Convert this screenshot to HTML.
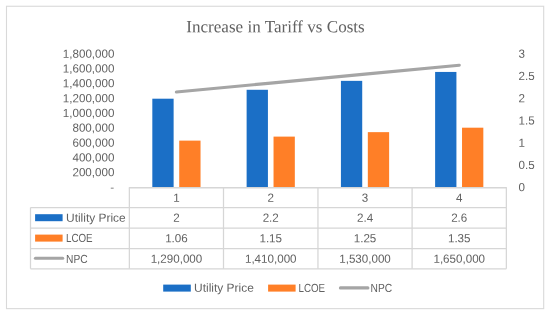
<!DOCTYPE html>
<html lang="en">
<head>
<meta charset="utf-8">
<title>Increase in Tariff vs Costs</title>
<style>
html,body{margin:0;padding:0;background:#fff;}
body{width:550px;height:316px;overflow:hidden;}
svg{display:block;}
.t{font-family:"Liberation Sans",sans-serif;font-size:11.8px;fill:#626262;}
.title{font-family:"Liberation Serif",serif;font-size:17.05px;fill:#626262;}
</style>
</head>
<body>
<svg width="550" height="316" viewBox="0 0 550 316">
<rect x="0" y="0" width="550" height="316" fill="#ffffff"/>
<rect x="6.5" y="6.25" width="537.2" height="302.4" fill="#ffffff" stroke="#d9d9d9" stroke-width="1.1"/>
<text class="title" transform="translate(275.5,32.3) rotate(0.03) scale(1.0025,1)" x="0" y="0" text-anchor="middle">Increase in Tariff vs Costs</text>
<rect x="152.32" y="98.70" width="21.30" height="88.40" fill="#1b6fc6"/>
<rect x="179.23" y="140.62" width="21.30" height="46.48" fill="#ff7f27"/>
<rect x="246.62" y="89.78" width="21.30" height="97.32" fill="#1b6fc6"/>
<rect x="273.53" y="136.61" width="21.30" height="50.49" fill="#ff7f27"/>
<rect x="340.92" y="80.86" width="21.30" height="106.24" fill="#1b6fc6"/>
<rect x="367.82" y="132.15" width="21.30" height="54.95" fill="#ff7f27"/>
<rect x="435.12" y="71.94" width="21.30" height="115.16" fill="#1b6fc6"/>
<rect x="462.03" y="127.69" width="21.30" height="59.41" fill="#ff7f27"/>
<polyline points="176.43,92.01 270.73,83.09 365.02,74.17 459.23,65.25" fill="none" stroke="#a5a5a5" stroke-width="3.2" stroke-linecap="round" stroke-linejoin="round"/>
<g stroke="#d6d6d6" stroke-width="1.25" fill="none">
<line x1="128.85" y1="187.80" x2="506.85" y2="187.80" stroke-width="1.4"/>
<line x1="30.5" y1="207.50" x2="506.35" y2="207.50"/>
<line x1="30.5" y1="228.05" x2="506.35" y2="228.05"/>
<line x1="30.5" y1="248.55" x2="506.35" y2="248.55"/>
<line x1="30.5" y1="268.75" x2="506.35" y2="268.75"/>
<line x1="129.35" y1="187.80" x2="129.35" y2="268.75"/>
<line x1="223.50" y1="187.80" x2="223.50" y2="268.75"/>
<line x1="317.95" y1="187.80" x2="317.95" y2="268.75"/>
<line x1="412.10" y1="187.80" x2="412.10" y2="268.75"/>
<line x1="506.35" y1="187.80" x2="506.35" y2="268.75"/>
<line x1="30.5" y1="207.50" x2="30.5" y2="268.75"/>
</g>
<text class="t" transform="translate(114.40,57.70) rotate(0.03)" text-anchor="end" textLength="51.60" lengthAdjust="spacingAndGlyphs">1,800,000</text>
<text class="t" transform="translate(114.40,72.53) rotate(0.03)" text-anchor="end" textLength="51.60" lengthAdjust="spacingAndGlyphs">1,600,000</text>
<text class="t" transform="translate(114.40,87.36) rotate(0.03)" text-anchor="end" textLength="51.60" lengthAdjust="spacingAndGlyphs">1,400,000</text>
<text class="t" transform="translate(114.40,102.19) rotate(0.03)" text-anchor="end" textLength="51.60" lengthAdjust="spacingAndGlyphs">1,200,000</text>
<text class="t" transform="translate(114.40,117.02) rotate(0.03)" text-anchor="end" textLength="51.60" lengthAdjust="spacingAndGlyphs">1,000,000</text>
<text class="t" transform="translate(114.40,131.85) rotate(0.03)" text-anchor="end" textLength="41.95" lengthAdjust="spacingAndGlyphs">800,000</text>
<text class="t" transform="translate(114.40,146.68) rotate(0.03)" text-anchor="end" textLength="41.95" lengthAdjust="spacingAndGlyphs">600,000</text>
<text class="t" transform="translate(114.40,161.51) rotate(0.03)" text-anchor="end" textLength="41.95" lengthAdjust="spacingAndGlyphs">400,000</text>
<text class="t" transform="translate(114.40,176.34) rotate(0.03)" text-anchor="end" textLength="41.95" lengthAdjust="spacingAndGlyphs">200,000</text>
<text class="t" transform="translate(114.20,191.17) rotate(0.03)" text-anchor="end" textLength="3.90" lengthAdjust="spacingAndGlyphs">-</text>
<text class="t" transform="translate(518.60,57.70) rotate(0.03)" textLength="6.46" lengthAdjust="spacingAndGlyphs">3</text>
<text class="t" transform="translate(518.60,79.95) rotate(0.03)" textLength="16.14" lengthAdjust="spacingAndGlyphs">2.5</text>
<text class="t" transform="translate(518.60,102.20) rotate(0.03)" textLength="6.46" lengthAdjust="spacingAndGlyphs">2</text>
<text class="t" transform="translate(518.60,124.45) rotate(0.03)" textLength="16.14" lengthAdjust="spacingAndGlyphs">1.5</text>
<text class="t" transform="translate(518.60,146.70) rotate(0.03)" textLength="6.46" lengthAdjust="spacingAndGlyphs">1</text>
<text class="t" transform="translate(518.60,168.95) rotate(0.03)" textLength="16.14" lengthAdjust="spacingAndGlyphs">0.5</text>
<text class="t" transform="translate(518.60,191.20) rotate(0.03)" textLength="6.46" lengthAdjust="spacingAndGlyphs">0</text>
<text class="t" transform="translate(176.43,201.65) rotate(0.03)" text-anchor="middle" textLength="6.46" lengthAdjust="spacingAndGlyphs">1</text>
<text class="t" transform="translate(176.43,221.78) rotate(0.03)" text-anchor="middle" textLength="6.46" lengthAdjust="spacingAndGlyphs">2</text>
<text class="t" transform="translate(176.43,242.30) rotate(0.03)" text-anchor="middle" textLength="22.61" lengthAdjust="spacingAndGlyphs">1.06</text>
<text class="t" transform="translate(176.43,262.65) rotate(0.03)" text-anchor="middle" textLength="51.60" lengthAdjust="spacingAndGlyphs">1,290,000</text>
<text class="t" transform="translate(270.73,201.65) rotate(0.03)" text-anchor="middle" textLength="6.46" lengthAdjust="spacingAndGlyphs">2</text>
<text class="t" transform="translate(270.73,221.78) rotate(0.03)" text-anchor="middle" textLength="16.14" lengthAdjust="spacingAndGlyphs">2.2</text>
<text class="t" transform="translate(270.73,242.30) rotate(0.03)" text-anchor="middle" textLength="22.61" lengthAdjust="spacingAndGlyphs">1.15</text>
<text class="t" transform="translate(270.73,262.65) rotate(0.03)" text-anchor="middle" textLength="51.60" lengthAdjust="spacingAndGlyphs">1,410,000</text>
<text class="t" transform="translate(365.02,201.65) rotate(0.03)" text-anchor="middle" textLength="6.46" lengthAdjust="spacingAndGlyphs">3</text>
<text class="t" transform="translate(365.02,221.78) rotate(0.03)" text-anchor="middle" textLength="16.14" lengthAdjust="spacingAndGlyphs">2.4</text>
<text class="t" transform="translate(365.02,242.30) rotate(0.03)" text-anchor="middle" textLength="22.61" lengthAdjust="spacingAndGlyphs">1.25</text>
<text class="t" transform="translate(365.02,262.65) rotate(0.03)" text-anchor="middle" textLength="51.60" lengthAdjust="spacingAndGlyphs">1,530,000</text>
<text class="t" transform="translate(459.23,201.65) rotate(0.03)" text-anchor="middle" textLength="6.46" lengthAdjust="spacingAndGlyphs">4</text>
<text class="t" transform="translate(459.23,221.78) rotate(0.03)" text-anchor="middle" textLength="16.14" lengthAdjust="spacingAndGlyphs">2.6</text>
<text class="t" transform="translate(459.23,242.30) rotate(0.03)" text-anchor="middle" textLength="22.61" lengthAdjust="spacingAndGlyphs">1.35</text>
<text class="t" transform="translate(459.23,262.65) rotate(0.03)" text-anchor="middle" textLength="51.60" lengthAdjust="spacingAndGlyphs">1,650,000</text>
<rect x="35.1" y="214.2" width="27.5" height="7" fill="#1b6fc6"/>
<rect x="35.1" y="234.6" width="27.5" height="7" fill="#ff7f27"/>
<line x1="35.4" y1="258.3" x2="62.7" y2="258.3" stroke="#a5a5a5" stroke-width="3.1" stroke-linecap="round"/>
<text class="t" transform="translate(66.00,221.78) rotate(0.03)" textLength="59.75" lengthAdjust="spacingAndGlyphs">Utility Price</text>
<text class="t" transform="translate(66.00,242.30) rotate(0.03)" textLength="26.58" lengthAdjust="spacingAndGlyphs">LCOE</text>
<text class="t" transform="translate(66.00,262.65) rotate(0.03)" textLength="21.62" lengthAdjust="spacingAndGlyphs">NPC</text>
<rect x="163.2" y="284.6" width="27.6" height="7" fill="#1b6fc6"/>
<text class="t" transform="translate(194.10,291.80) rotate(0.03)" textLength="59.75" lengthAdjust="spacingAndGlyphs">Utility Price</text>
<rect x="268.1" y="284.6" width="27.5" height="7" fill="#ff7f27"/>
<text class="t" transform="translate(298.50,291.80) rotate(0.03)" textLength="26.58" lengthAdjust="spacingAndGlyphs">LCOE</text>
<line x1="340.4" y1="287.9" x2="367.9" y2="287.9" stroke="#a5a5a5" stroke-width="3.1" stroke-linecap="round"/>
<text class="t" transform="translate(370.50,291.80) rotate(0.03)" textLength="21.62" lengthAdjust="spacingAndGlyphs">NPC</text>
</svg>
</body>
</html>
